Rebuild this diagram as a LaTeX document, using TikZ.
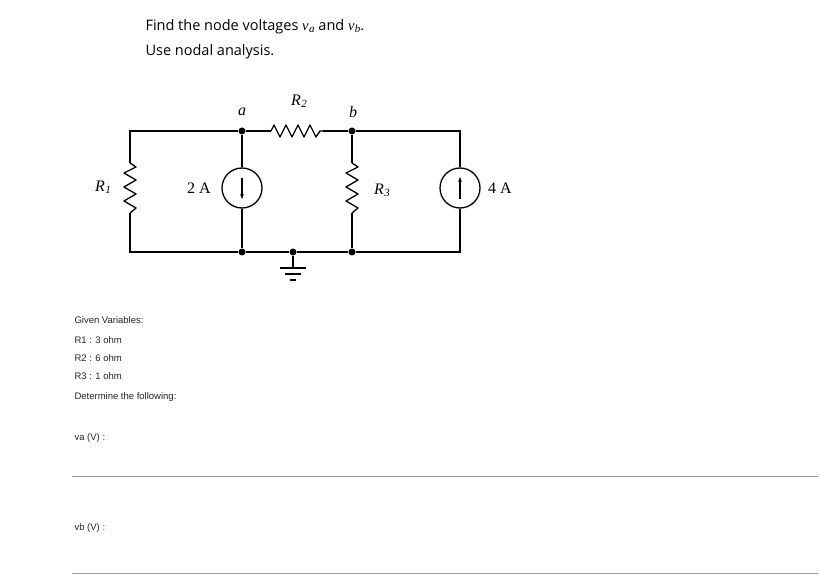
\documentclass[tikz,border=0pt]{standalone}
\usepackage{fontspec}
\usetikzlibrary{arrows.meta}
\setmainfont{Liberation Serif}
\newfontfamily\sans{Open Sans}
\newfontfamily\arial{Liberation Sans}
\newfontfamily\serif{Liberation Serif}
\newcommand{\vr}[2]{{\serif\itshape #1\kern0.5pt\raisebox{-0.3ex}{\fontsize{11}{12}\selectfont #2}}}
\begin{document}
\begin{tikzpicture}[x=1pt,y=-1pt,
  w/.style={line width=1.3pt},
  dot/.style={circle,fill=black,inner sep=0pt,minimum size=7pt},
  src/.style={circle,draw,line width=1.3pt,minimum size=40pt,inner sep=0pt},
  lab/.style={font=\serif\fontsize{16}{18}\selectfont},
  q/.style={anchor=west,font=\arial\fontsize{9.5}{11}\selectfont,text=black!85},
  hl/.style={draw=black!40,line width=0.5pt}]
\useasboundingbox (0,0) rectangle (819,585);
\fill[white] (0,0) rectangle (819,585);
\node[anchor=west,font=\sans\fontsize{14.5}{16}\selectfont] (t1) at (142,27) {Find the node voltages \vr{v}{a} and \vr{v}{b}.};
\node[anchor=west,font=\sans\fontsize{14.5}{16}\selectfont] (t2) at (142,52) {Use nodal analysis.};
% nodes
\node[dot] (a) at (242,131) {};
\node[dot] (b) at (352,131) {};
\node[dot] (a0) at (242,252) {};
\node[dot] (b0) at (352,252) {};
\node[dot] (g) at (293,252) {};
\coordinate (tl) at (130,131); \coordinate (bl) at (130,252);
\coordinate (tr) at (460,131); \coordinate (br) at (460,252);
\node[src] (s1) at (242,188) {};
\node[src] (s2) at (460,188) {};
% wires
\draw[w] (b) -- (tr) -- (s2.north) (s2.south) -- (br) -- (b0) -- (g) -- (a0) -- (bl) -- (130,213);
\draw[w] (130,163) -- (tl) -- (a) -- (271,131);
\draw[w] (a) -- (s1.north) (s1.south) -- (a0);
\draw[w] (323,131) -- (b) -- (352,163);
\draw[w] (352,213) -- (b0);
% zigzags
\draw[w,line join=round] (271,131) -- (274,125) -- (280,137) -- (286,125) -- (292,137) -- (298,125) -- (304,137) -- (310,125) -- (316,137) -- (320,131) -- (323,131);
\draw[w,line join=round] (130,163) -- (136,167) -- (124,173) -- (136,180) -- (124,187) -- (136,194) -- (124,201) -- (136,208) -- (130,213);
\draw[w,line join=round] (352,163) -- (358,167) -- (346,173) -- (358,180) -- (346,187) -- (358,194) -- (346,201) -- (358,208) -- (352,213);
% arrows
\draw[line width=1.1pt,-{Stealth[length=5pt]}] (242,178) -- (242,199);
\draw[line width=1.1pt,-{Stealth[length=5pt]}] (460,199) -- (460,177);
% ground
\draw[w] (g) -- (293,268);
\draw[w] (280,268) -- (306,268);
\draw[w] (285,274) -- (301,274);
\draw[w] (290,280) -- (296,280);
% labels
\node[lab] (la) at (242,112) {\itshape a};
\node[lab] (lb) at (353,112) {\itshape b};
\node[lab] (lr2) at (299,101) {\vr{R}{2}};
\node[lab] (lr1) at (103,187) {\vr{R}{1}};
\node[lab] (lr3) at (382,190) {\vr{R}{3}};
\node[lab] (l2) at (199,188) {2 A};
\node[lab] (l4) at (500,188) {4 A};
% text
\node[q] (g1) at (71,320) {Given Variables:};
\node[q] (g2) at (71,340) {R1 : 3 ohm};
\node[q] (g3) at (71,358) {R2 : 6 ohm};
\node[q] (g4) at (71,376) {R3 : 1 ohm};
\node[q] (g5) at (71,397) {Determine the following:};
\node[q] (g6) at (71,438) {va (V) :};
\node[q] (g7) at (71,528) {vb (V) :};
\draw[hl] (72,476) -- (818,476);
\draw[hl] (72,573) -- (818,573);
\end{tikzpicture}
\end{document}
